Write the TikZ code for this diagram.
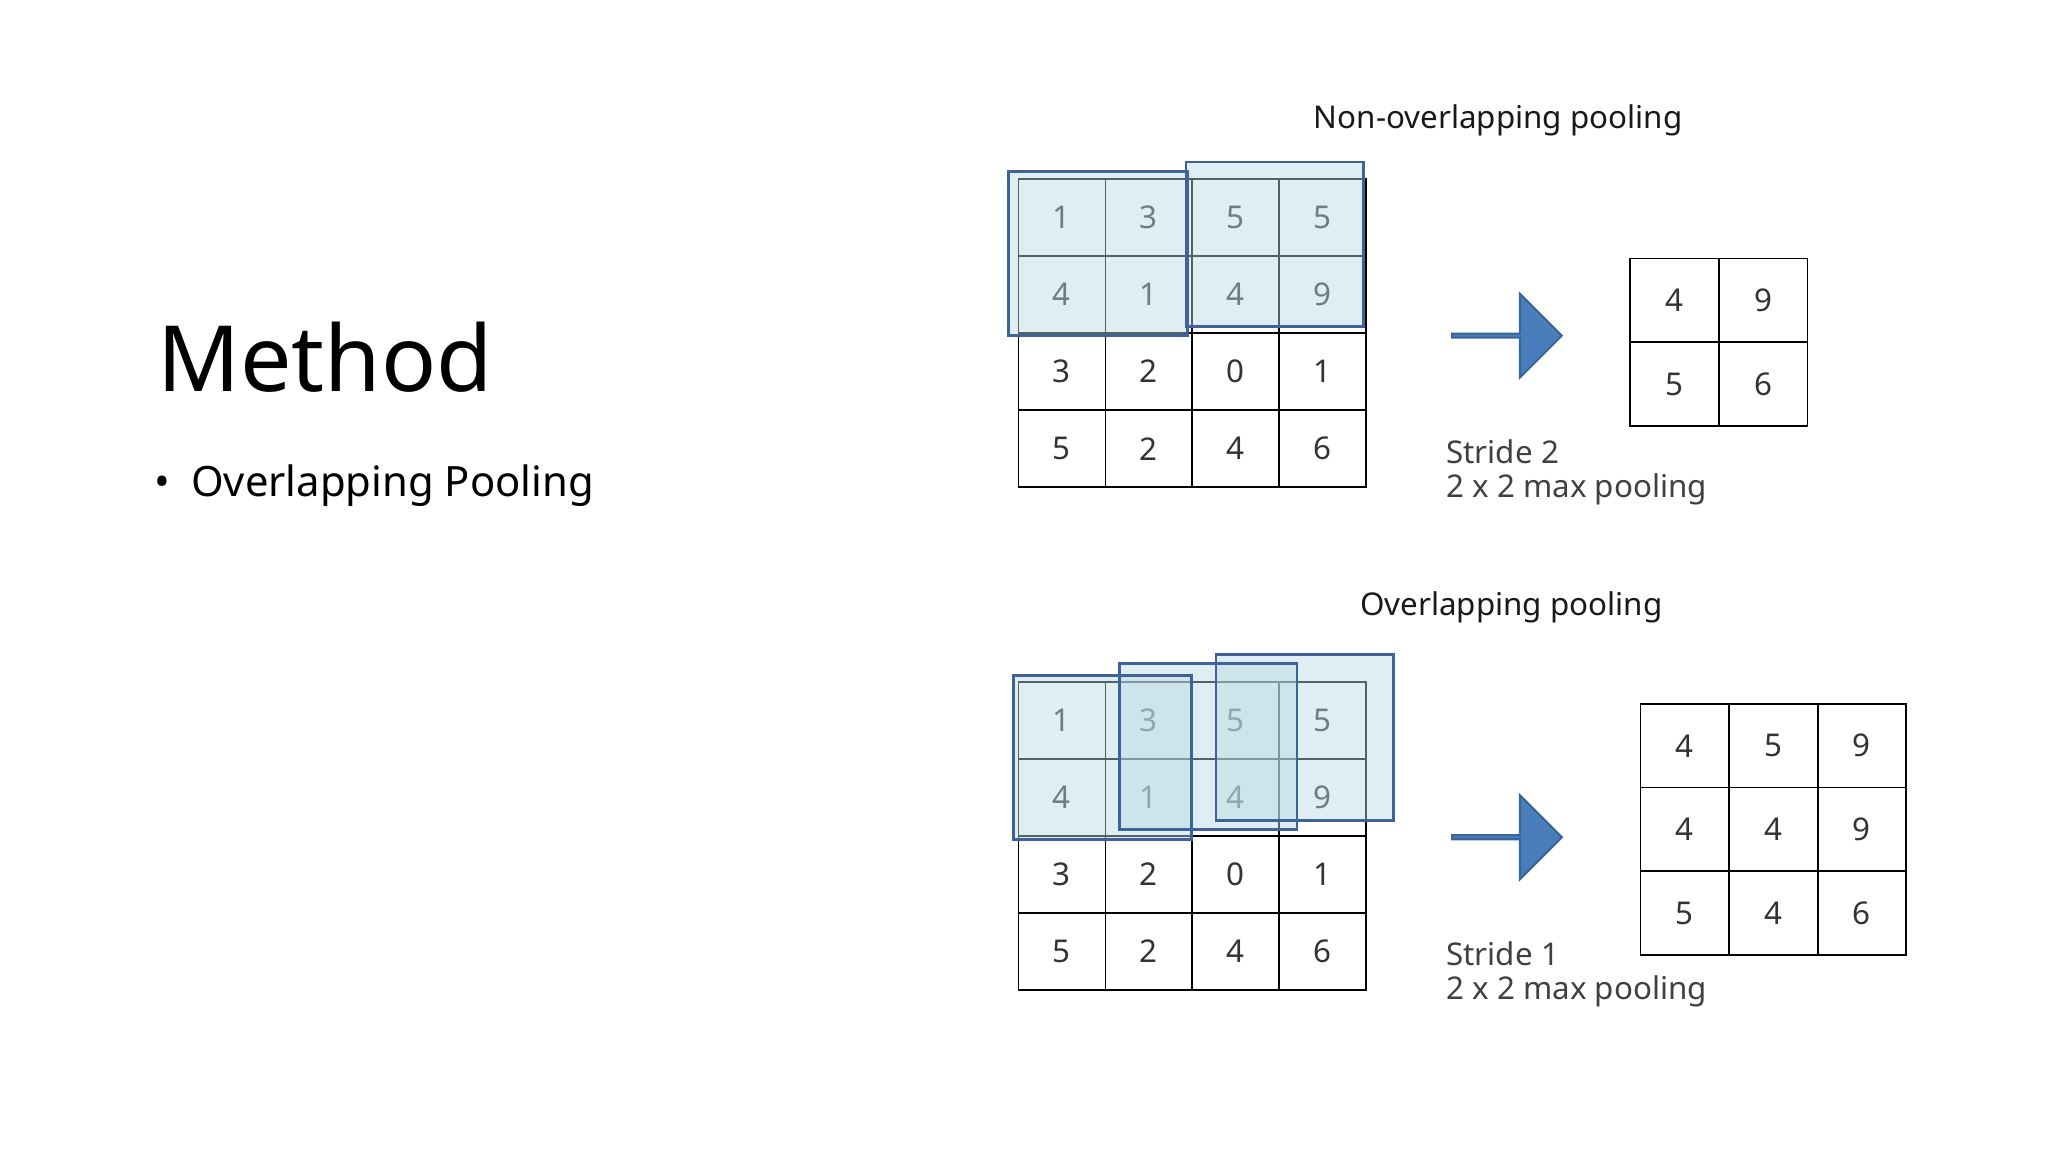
\documentclass[tikz,border=0pt]{standalone}
\usepackage{fontspec}
\setmainfont{Noto Sans}
\usetikzlibrary{shapes.arrows}
\definecolor{wb}{HTML}{3F6398}
\definecolor{wf}{HTML}{B7D9E3}
\definecolor{ab}{HTML}{4A7EBB}
\definecolor{ad}{HTML}{3A659A}
\tikzset{
 cell/.style={draw=black,line width=0.6pt,minimum width=33.25pt,minimum height=29.5pt,inner sep=0pt,font=\fontsize{12}{12}\selectfont,text=black!80},
 win/.style={draw=wb,line width=1.1pt,fill=wf,fill opacity=0.45},
 title/.style={font=\bfseries\fontsize{12}{12}\selectfont,text=black!90},
 lbl/.style={anchor=west,font=\fontsize{12}{12}\selectfont,text=black!75,inner sep=0pt},
 bigarrow/.style={single arrow,draw=ad,fill=ab,line width=0.8pt,minimum height=42pt,single arrow head extend=8pt,minimum width=32pt,inner sep=0pt}
}
\begin{document}
\begin{tikzpicture}[x=0.5pt,y=-0.5pt]
\useasboundingbox (0,0) rectangle (1568,882);
\node[anchor=base west,inner sep=0pt,font=\bfseries\fontsize{35}{35}\selectfont] (method) at (120,300) {Method};
\node[anchor=base west,inner sep=0pt,font=\bfseries\fontsize{16}{16}\selectfont] (bul) at (118,380) {\textbullet\hspace{0.5em}Overlapping Pooling};
% top
\node[title] (t1) at (1147,92) {Non-overlapping pooling};
\foreach \r/\row in {0/{1,3,5,5},1/{4,1,4,9},2/{3,2,0,1},3/{5,2,4,6}}{
 \foreach \v [count=\c from 0] in \row {
  \node[cell] (a\r\c) at ({813+66.5*\c},{166.5+59*\r}) {\v};}}
\fill[win] (772,131) rectangle (909,257);
\fill[win] (908,124) rectangle (1044,250);
\draw[draw=wb,line width=1.1pt] (772,131) rectangle (909,257) (908,124) rectangle (1044,250);
\node[bigarrow] (ar1) at (1153,257) {};
\foreach \r/\row in {0/{4,9},1/{5,6}}{
 \foreach \v [count=\c from 0] in \row {
  \node[cell,minimum width=34pt,minimum height=32pt] (o\r\c) at ({1282+68*\c},{230+64*\r}) {\v};}}
\node[lbl] (s1) at (1107,346) {Stride 2};
\node[lbl] (p1) at (1107,375) {2 x 2 max pooling};
% bottom
\node[title] (t2) at (1157,465) {Overlapping pooling};
\foreach \r/\row in {0/{1,3,5,5},1/{4,1,4,9},2/{3,2,0,1},3/{5,2,4,6}}{
 \foreach \v [count=\c from 0] in \row {
  \node[cell] (b\r\c) at ({813+66.5*\c},{551.5+59*\r}) {\v};}}
\fill[win] (776,517) rectangle (912,643);
\fill[win] (857,508) rectangle (993,635);
\fill[win] (931,501) rectangle (1067,628);
\draw[draw=wb,line width=1.1pt] (776,517) rectangle (912,643) (857,508) rectangle (993,635) (931,501) rectangle (1067,628);
\node[bigarrow] (ar2) at (1153,641) {};
\foreach \r/\row in {0/{4,5,9},1/{4,4,9},2/{5,4,6}}{
 \foreach \v [count=\c from 0] in \row {
  \node[cell,minimum width=34pt,minimum height=32pt] (q\r\c) at ({1290+67.7*\c},{571+64*\r}) {\v};}}
\node[lbl] (s2) at (1107,730) {Stride 1};
\node[lbl] (p2) at (1107,759) {2 x 2 max pooling};
\end{tikzpicture}
\end{document}
